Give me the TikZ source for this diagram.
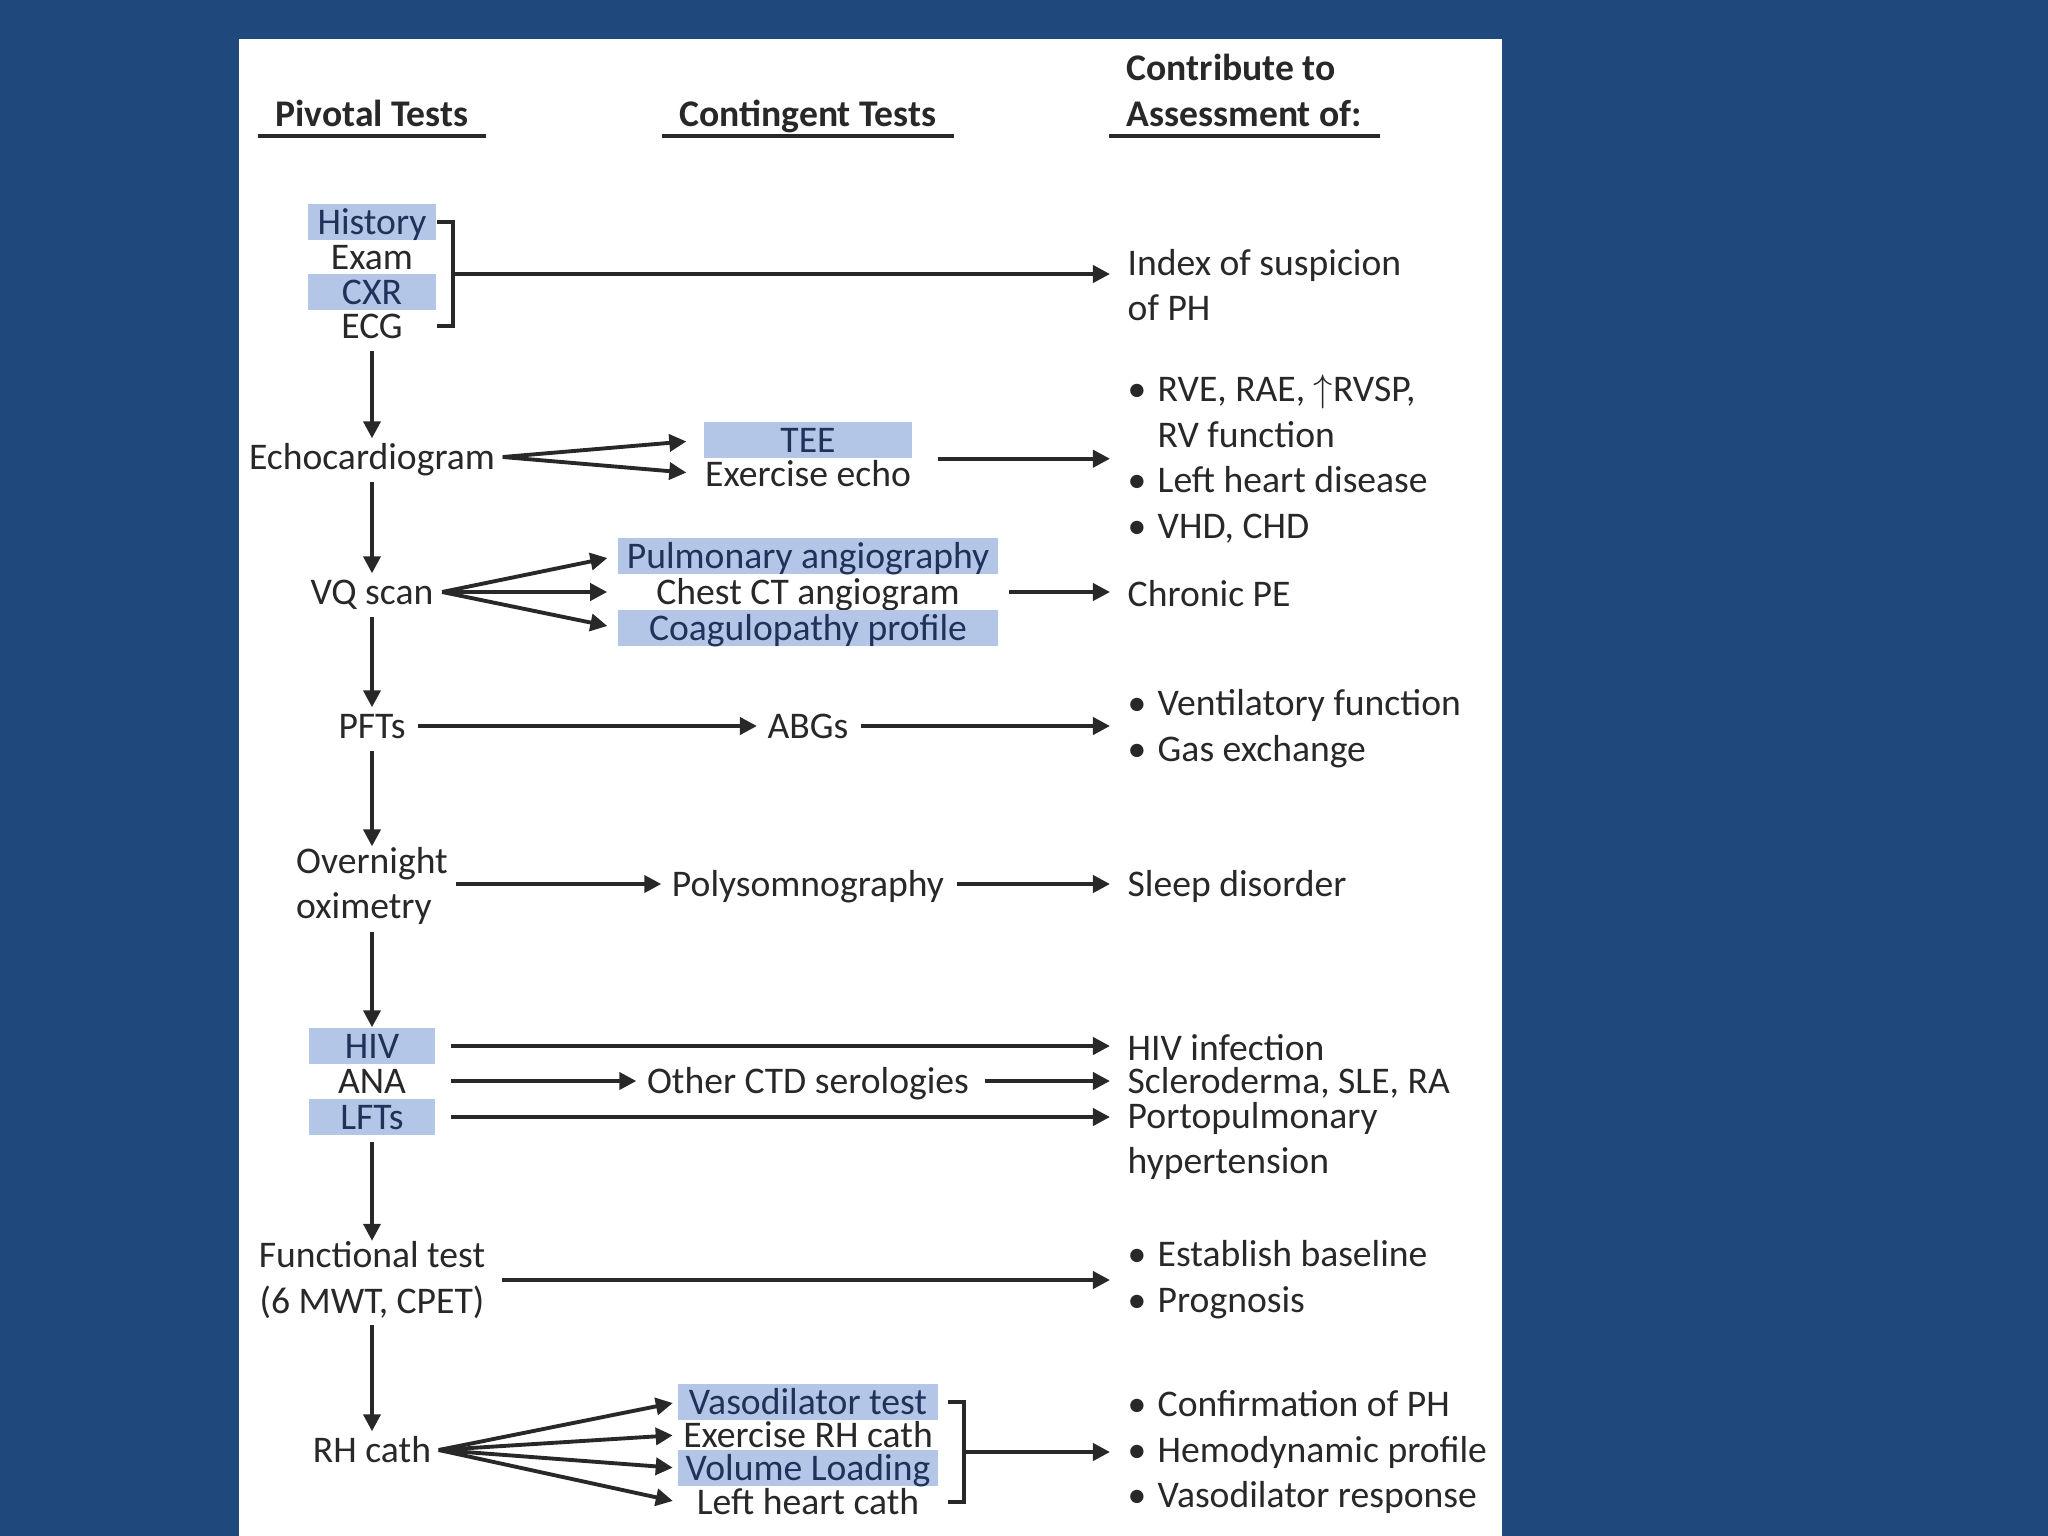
\documentclass[tikz,border=0pt]{standalone}
\usepackage{fontspec}
\setmainfont{Carlito}
\usetikzlibrary{arrows.meta,calc,positioning}
\definecolor{slideblue}{RGB}{31,73,125}
\definecolor{hlblue}{RGB}{180,198,231}
\definecolor{hltext}{RGB}{31,50,90}
\definecolor{ink}{RGB}{40,40,40}
\newcommand{\bpt}{\textbullet\hspace{0.3em}}

\begin{document}
\begin{tikzpicture}[x=0.01cm,y=-0.01cm,
    every node/.style={font=\fontsize{10.7}{13}\selectfont, text=ink, inner sep=0pt},
    head/.style={font=\fontsize{10.7}{13}\selectfont\bfseries, anchor=south, inner xsep=0.17cm, inner ysep=0.09cm, text depth=0pt},
    uline/.style={line width=1.4pt, ink},
    tst/.style={minimum height=0.36cm, text height=0.30cm, text depth=0.05cm},
    hl/.style={tst, fill=hlblue, text=hltext},
    outcome/.style={anchor=west, align=left, inner xsep=0.07cm},
    arr/.style={line width=1.1pt, ink, -{Triangle[length=0.17cm,width=0.17cm]}, shorten <=0.12cm, shorten >=0.1cm},
    vdown/.style={arr, shorten <=0.06cm, shorten >=0pt},
    brk/.style={line width=1.1pt, ink}]
    % column positions (pixels of the slide)
    \def\cx{372}
    \def\mx{808}
    \def\rx{1120}

    % slide and white panel
    \fill[slideblue] (0,0) rectangle (2048,1536);
    \fill[white] (239,39) rectangle (1502,1536);
    \useasboundingbox (0,0) rectangle (2048,1536);

    % column headers
    \node[head] (piv) at (\cx,136) {Pivotal Tests};
    \node[head] (cont) at (\mx,136) {Contingent Tests};
    \node[head, anchor=south west, align=left] (asm) at (1109,136) {Contribute to\\Assessment of:};
    \foreach \h in {piv,cont,asm}
      \draw[uline] (\h.south west) -- (\h.south east);

    % History / Exam / CXR / ECG
    \foreach \n/\t/\y/\s in {hist/History/222/hl, exam/Exam/257/tst, cxr/CXR/292/hl, ecg/ECG/326/tst}
      \node[\s, minimum width=1.28cm] (\n) at (\cx,\y) {\t};
    \draw[brk] (hist.east) -- ++(16,0) coordinate (hb1) |- (ecg.east);
    \coordinate (hbm) at ($(hb1)!0.5!(hb1 |- ecg.east)$);
    \node[outcome] (idx) at (\rx,285) {Index of suspicion\\of PH};
    \draw[arr, shorten <=0pt] (hbm) -- (idx.west |- hbm);

    % Echocardiogram
    \node[tst] (echo) at (\cx,457) {Echocardiogram};
    \node[hl, minimum width=2.08cm] (tee) at (\mx,440) {TEE};
    \node[tst, minimum width=2.08cm] (exe) at (\mx,474) {Exercise echo};
    \coordinate (eo) at ([xshift=0.07cm]echo.east);
    \foreach \t in {tee,exe}
      \draw[arr, shorten <=0pt, shorten >=0.17cm] (eo) -- (\t.west);
    \node[outcome] (rv) at (\rx,459) {\bpt RVE, RAE, $\uparrow$RVSP,\\\hphantom{\bpt}RV function\\\bpt Left heart disease\\\bpt VHD, CHD};
    \draw[arr, shorten <=0.25cm] (tee.south east) -- (rv.west |- tee.south east);

    % VQ scan
    \node[tst] (vq) at (\cx,592) {VQ scan};
    \node[hl, minimum width=3.8cm] (pulm) at (\mx,556) {Pulmonary angiography};
    \node[tst, minimum width=3.8cm] (ct) at (\mx,592) {Chest CT angiogram};
    \node[hl, minimum width=3.8cm] (coag) at (\mx,628) {Coagulopathy profile};
    \coordinate (vo) at ([xshift=0.08cm]vq.east);
    \foreach \t in {pulm,ct,coag}
      \draw[arr, shorten <=0pt] (vo) -- (\t.west);
    \node[outcome] (cpe) at (\rx,594) {Chronic PE};
    \draw[arr, shorten <=0.1cm] (ct) -- (cpe.west |- ct);

    % PFTs
    \node[tst] (pft) at (\cx,726) {PFTs};
    \node[tst] (abg) at (\mx,726) {ABGs};
    \node[outcome] (vent) at (\rx,729) {\bpt Ventilatory function\\\bpt Gas exchange};
    \draw[arr] (pft) -- (abg);
    \draw[arr] (abg) -- (vent.west |- abg);

    % Overnight oximetry
    \node[align=left] (ovn) at (\cx,886) {Overnight\\oximetry};
    \node[tst] (poly) at (\mx,884) {Polysomnography};
    \node[outcome] (sleep) at (\rx,886) {Sleep disorder};
    \draw[arr, shorten <=0.08cm] (ovn.east |- poly) -- (poly);
    \draw[arr] (poly) -- (sleep.west |- poly);

    % HIV / ANA / LFTs
    \foreach \n/\t/\y/\s in {hiv/HIV/1046/hl, ana/ANA/1081/tst, lft/LFTs/1117/hl}
      \node[\s, minimum width=1.26cm] (\n) at (\cx,\y) {\t};
    \node[tst] (ctd) at (\mx,1081) {Other CTD serologies};
    \node[outcome] (hivinf) at (\rx,1048) {HIV infection};
    \node[outcome] (scl) at (\rx,1083) {Scleroderma, SLE, RA};
    \node[outcome] (porto) at (\rx,1141) {Portopulmonary\\hypertension};
    \draw[arr, shorten <=0.15cm] (hiv) -- (hivinf.west |- hiv);
    \draw[arr, shorten <=0.15cm] (ana) -- (ctd);
    \draw[arr, shorten <=0.15cm] (ctd) -- (scl.west |- ctd);
    \draw[arr, shorten <=0.15cm] (lft) -- (porto.west |- lft);

    % Functional test
    \node[align=center] (fun) at (\cx,1280) {Functional test\\(6 MWT, CPET)};
    \node[outcome] (est) at (\rx,1280) {\bpt Establish baseline\\\bpt Prognosis};
    \draw[arr, shorten <=0.16cm] (fun) -- (est);

    % RH cath
    \node[tst] (rhc) at (\cx,1450) {RH cath};
    \foreach \n/\t/\y/\s in {vaso/Vasodilator test/1402/hl, exrh/Exercise RH cath/1435/tst, vol/Volume Loading/1468/hl, lhc/Left heart cath/1502/tst}
      \node[\s, minimum width=2.59cm] (\n) at (\mx,\y) {\t};
    \coordinate (ro) at ([xshift=0.07cm]rhc.east);
    \foreach \t in {vaso,exrh,vol,lhc}
      \draw[arr, shorten <=0pt, shorten >=0.05cm] (ro) -- (\t.west);
    \draw[brk] ([xshift=0.1cm]vaso.east) -- ++(16,0) coordinate (rb1) |- ([xshift=0.1cm]lhc.east);
    \coordinate (rbm) at ($(rb1)!0.5!(rb1 |- lhc.east)$);
    \node[outcome] (conf) at (\rx,1452) {\bpt Confirmation of PH\\\bpt Hemodynamic profile\\\bpt Vasodilator response};
    \draw[arr, shorten <=0pt] (rbm) -- (conf.west |- rbm);

    % main pivotal sequence
    \foreach \a/\b in {ecg/echo, echo/vq, vq/pft, pft/ovn, ovn/hiv, lft/fun, fun/rhc}
      \draw[vdown] (\a) -- (\b);
\end{tikzpicture}
\end{document}
